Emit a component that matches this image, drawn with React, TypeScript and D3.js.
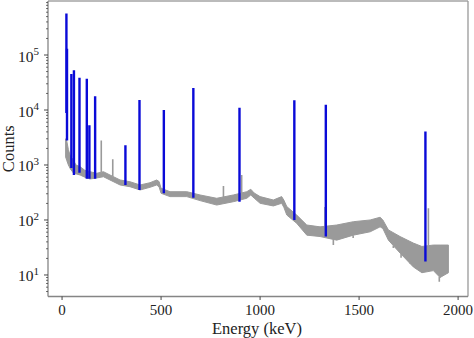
import React from "react";
import * as d3 from "d3";

// Continuum band (gray spectrum): energy (keV), lower and upper edge of the noisy trace
const bandEnergy = [18, 24, 32, 42, 57, 70, 91, 115, 141, 175, 209, 242, 293, 343, 394, 444, 478, 490, 500, 545, 630, 697, 781, 865, 933, 953, 970, 1000, 1067, 1109, 1120, 1135, 1185, 1236, 1303, 1387, 1471, 1556, 1606, 1620, 1648, 1707, 1774, 1817, 1875, 1909, 1951];
const bandLow = [1400, 1200, 1000, 850, 716, 690, 658, 600, 556, 581, 612, 534, 433, 403, 351, 393, 433, 400, 306, 266, 266, 225, 187, 215, 248, 285, 250, 201, 180, 201, 170, 123, 87, 53, 50, 43, 53, 61, 75, 70, 43, 25, 14, 11, 12, 9, 11];
const bandHigh = [3000, 2700, 1900, 1450, 1233, 1000, 931, 800, 755, 706, 755, 658, 534, 496, 433, 476, 534, 500, 377, 327, 327, 285, 248, 285, 327, 362, 310, 266, 231, 266, 230, 175, 123, 81, 75, 81, 93, 100, 112, 100, 66, 50, 38, 33, 35, 35, 35];

// Small gray spikes (upward) and noise dips (downward) of the spectrum
const graySpikeEnergy = [198, 256, 815, 907, 1328, 1850];
const graySpikeTop = [2800, 1270, 415, 658, 172, 163];
const grayDipEnergy = [1370, 1470, 1673, 1712, 1757, 1817, 1862, 1905, 1930, 1946];
const grayDipValue = [35, 47, 31, 20.5, 16.5, 10.9, 12, 7.5, 10, 11];

// Fitted photopeaks (blue)
const peakEnergy = [22, 25, 47, 60, 88, 125, 138, 167, 320, 391, 514, 663, 896, 1173, 1332, 1835];
const peakTop = [570000, 130000, 45000, 53000, 38700, 37000, 5300, 17700, 2280, 15200, 10000, 25000, 11000, 15000, 12500, 4050];
const peakBase = [8800, 2800, 880, 660, 720, 560, 560, 560, 433, 351, 306, 255, 215, 100, 50, 17.5];

const xTicks = [0, 500, 1000, 1500, 2000];
const yTickExponents = [1, 2, 3, 4, 5];

const W = 474;
const H = 338;
const left = 48;
const right = 468;
const top = 1;
const bottom = 296.5;

export default function App() {
  const x = d3.scaleLinear().domain([-71, 2050]).range([left, right]);
  const y = d3.scaleLog().domain([4.06, 9.6e5]).range([bottom, top]);

  const band = bandEnergy.map((e, i) => ({ e, lo: bandLow[i], hi: bandHigh[i] }));
  const area = d3
    .area<{ e: number; lo: number; hi: number }>()
    .x((d) => x(d.e))
    .y0((d) => y(d.lo))
    .y1((d) => y(d.hi));

  const edgeAt = (e: number, key: "lo" | "hi") => {
    const i = d3.bisector((d: { e: number }) => d.e).left(band, e);
    const a = band[Math.max(0, i - 1)];
    const b = band[Math.min(band.length - 1, i)];
    if (a === b) return a[key];
    const t = (e - a.e) / (b.e - a.e);
    return Math.exp(Math.log(a[key]) * (1 - t) + Math.log(b[key]) * t);
  };

  const minorTicks: number[] = [];
  for (let p = 0; p <= 5; p++) {
    for (let m = 2; m <= 9; m++) {
      const v = m * Math.pow(10, p);
      if (v >= 4.06 && v <= 9.6e5) minorTicks.push(v);
    }
  }

  const gray = "#9a9a9a";
  const blue = "#0a0ad8";
  const spine = "#858585";
  const font = "'Liberation Serif', 'Times New Roman', serif";

  return (
    <svg width={W} height={H} style={{ position: "absolute", left: 0, top: 0, background: "#fff" }}>
      <defs>
        <clipPath id="plot">
          <rect x={left} y={top} width={right - left} height={bottom - top} />
        </clipPath>
      </defs>
      <g clipPath="url(#plot)">
        <path d={area(band) || ""} fill={gray} stroke={gray} strokeWidth={1} />
        {graySpikeEnergy.map((e, i) => (
          <line key={"gs" + i} x1={x(e)} x2={x(e)} y1={y(edgeAt(e, "hi"))} y2={y(graySpikeTop[i])} stroke={gray} strokeWidth={1.6} />
        ))}
        {grayDipEnergy.map((e, i) => (
          <line key={"gd" + i} x1={x(e)} x2={x(e)} y1={y(edgeAt(e, "lo"))} y2={y(grayDipValue[i])} stroke={gray} strokeWidth={1.6} />
        ))}
        {peakEnergy.map((e, i) => (
          <line key={"p" + i} x1={x(e)} x2={x(e)} y1={y(peakBase[i])} y2={y(peakTop[i])} stroke={blue} strokeWidth={2.4} />
        ))}
      </g>

      {/* spines */}
      <line x1={left} x2={right} y1={top} y2={top} stroke="#bbbbbb" strokeWidth={2} />
      <line x1={right} x2={right} y1={top} y2={bottom} stroke="#999999" strokeWidth={1.3} />
      <line x1={left} x2={right} y1={bottom} y2={bottom} stroke={spine} strokeWidth={1.3} />
      <line x1={left} x2={left} y1={top} y2={bottom} stroke={spine} strokeWidth={1.3} />

      {/* x ticks */}
      {xTicks.map((t) => (
        <g key={"xt" + t}>
          <line x1={x(t)} x2={x(t)} y1={bottom} y2={bottom + 3.5} stroke="#333" strokeWidth={0.9} />
          <text x={x(t)} y={315} textAnchor="middle" fontFamily={font} fontSize={15} fill="#222">
            {t}
          </text>
        </g>
      ))}

      {/* y ticks */}
      {minorTicks.map((v, i) => (
        <line key={"ym" + i} x1={left - 2} x2={left} y1={y(v)} y2={y(v)} stroke="#333" strokeWidth={0.7} />
      ))}
      {yTickExponents.map((p) => {
        const v = Math.pow(10, p);
        return (
          <g key={"yt" + p}>
            <line x1={left - 4} x2={left} y1={y(v)} y2={y(v)} stroke="#333" strokeWidth={0.9} />
            <text x={39} y={y(v) + 6.5} textAnchor="end" fontFamily={font} fontSize={15.5} fill="#222">
              10
              <tspan dy={-6.5} fontSize={11}>
                {p}
              </tspan>
            </text>
          </g>
        );
      })}

      {/* axis labels */}
      <text x={257} y={333.5} textAnchor="middle" fontFamily={font} fontSize={16.5} fill="#222">
        Energy (keV)
      </text>
      <text
        transform={`translate(13.5, ${(top + bottom) / 2}) rotate(-90)`}
        textAnchor="middle"
        fontFamily={font}
        fontSize={16.5}
        fill="#222"
      >
        Counts
      </text>
    </svg>
  );
}
